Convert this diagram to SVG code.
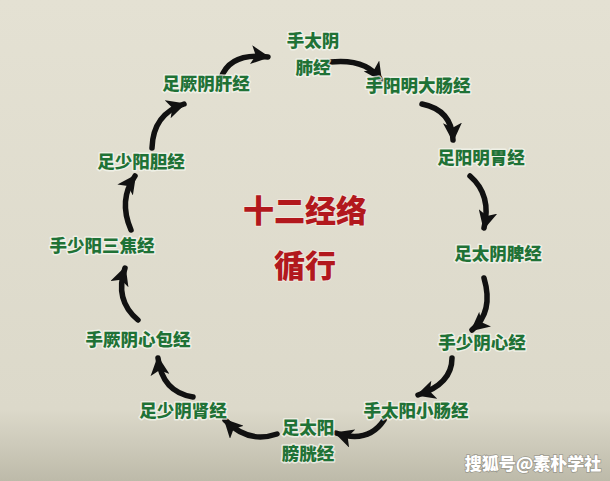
<svg xmlns="http://www.w3.org/2000/svg" width="610" height="481" viewBox="0 0 610 481">
<defs>
<linearGradient id="bg" x1="0" y1="0" x2="0" y2="1">
<stop offset="0" stop-color="#e4e1d3"/>
<stop offset="0.85" stop-color="#dcd9ca"/>
<stop offset="0.93" stop-color="#ccc9b9"/>
<stop offset="1" stop-color="#bdbaa9"/>
</linearGradient>
<marker id="ah" viewBox="0 0 10 10" markerWidth="19" markerHeight="19" markerUnits="userSpaceOnUse" refX="9" refY="5" orient="auto">
<path d="M0,0 L10,5 L0,10 L2.5,5 z" fill="#111"/>
</marker>
<style>
.n{font-family:"Noto Sans CJK SC","Noto Sans",sans-serif;font-weight:900;font-size:17.5px;fill:#1f7236;stroke:#f4f6ee;stroke-opacity:0.75;stroke-width:3px;paint-order:stroke;stroke-linejoin:round;text-anchor:middle}
.t{font-family:"Noto Sans CJK SC","Noto Sans",sans-serif;font-weight:900;font-size:31px;fill:#b2181d;stroke:#eee6dc;stroke-width:2px;paint-order:stroke;text-anchor:middle}
.a{fill:none;stroke:#111;stroke-width:5.5;stroke-linecap:round;marker-end:url(#ah)}
.w{font-family:"Noto Sans CJK SC","Noto Sans",sans-serif;font-weight:900;font-size:17px;fill:#ffffff;stroke:#555;stroke-opacity:0.4;stroke-width:1.5px;paint-order:stroke;text-anchor:middle}
</style>
</defs>
<rect width="610" height="481" fill="url(#bg)"/>
<g id="connectors">
<path class="a" d="M221,78 Q230,52 268,57"/>
<path class="a" d="M330,62 Q366,58 381,80"/>
<path class="a" d="M422,104 Q452,110 453,140"/>
<path class="a" d="M470,176 Q492,195 484,228"/>
<path class="a" d="M484,278 Q494,312 472,330"/>
<path class="a" d="M452,358 Q452,384 418,395"/>
<path class="a" d="M384,420 Q368,444 336,433"/>
<path class="a" d="M277,434 Q248,444 225,420"/>
<path class="a" d="M193,397 Q162,392 158,358"/>
<path class="a" d="M138,320 Q114,300 125,268"/>
<path class="a" d="M131,230 Q118,200 135,176"/>
<path class="a" d="M152,148 Q153,114 184,104"/>
</g>
<g id="title"><text class="t" x="305" y="222">十二经络</text><text class="t" x="305" y="277">循行</text></g>
<g id="n1"><text class="n" x="313" y="47">手太阴</text><text class="n" x="313" y="74">肺经</text></g>
<g id="n2"><text class="n" x="418" y="92">手阳明大肠经</text></g>
<g id="n3"><text class="n" x="481" y="164">足阳明胃经</text></g>
<g id="n4"><text class="n" x="498" y="260">足太阴脾经</text></g>
<g id="n5"><text class="n" x="482" y="349">手少阴心经</text></g>
<g id="n6"><text class="n" x="416" y="417">手太阳小肠经</text></g>
<g id="n7"><text class="n" x="308" y="434">足太阳</text><text class="n" x="308" y="460">膀胱经</text></g>
<g id="n8"><text class="n" x="183" y="417">足少阴肾经</text></g>
<g id="n9"><text class="n" x="138" y="346">手厥阴心包经</text></g>
<g id="n10"><text class="n" x="102" y="252">手少阳三焦经</text></g>
<g id="n11"><text class="n" x="141" y="168">足少阳胆经</text></g>
<g id="n12"><text class="n" x="206" y="90">足厥阴肝经</text></g>
<text class="w" x="533" y="470">搜狐号@素朴学社</text>
</svg>
